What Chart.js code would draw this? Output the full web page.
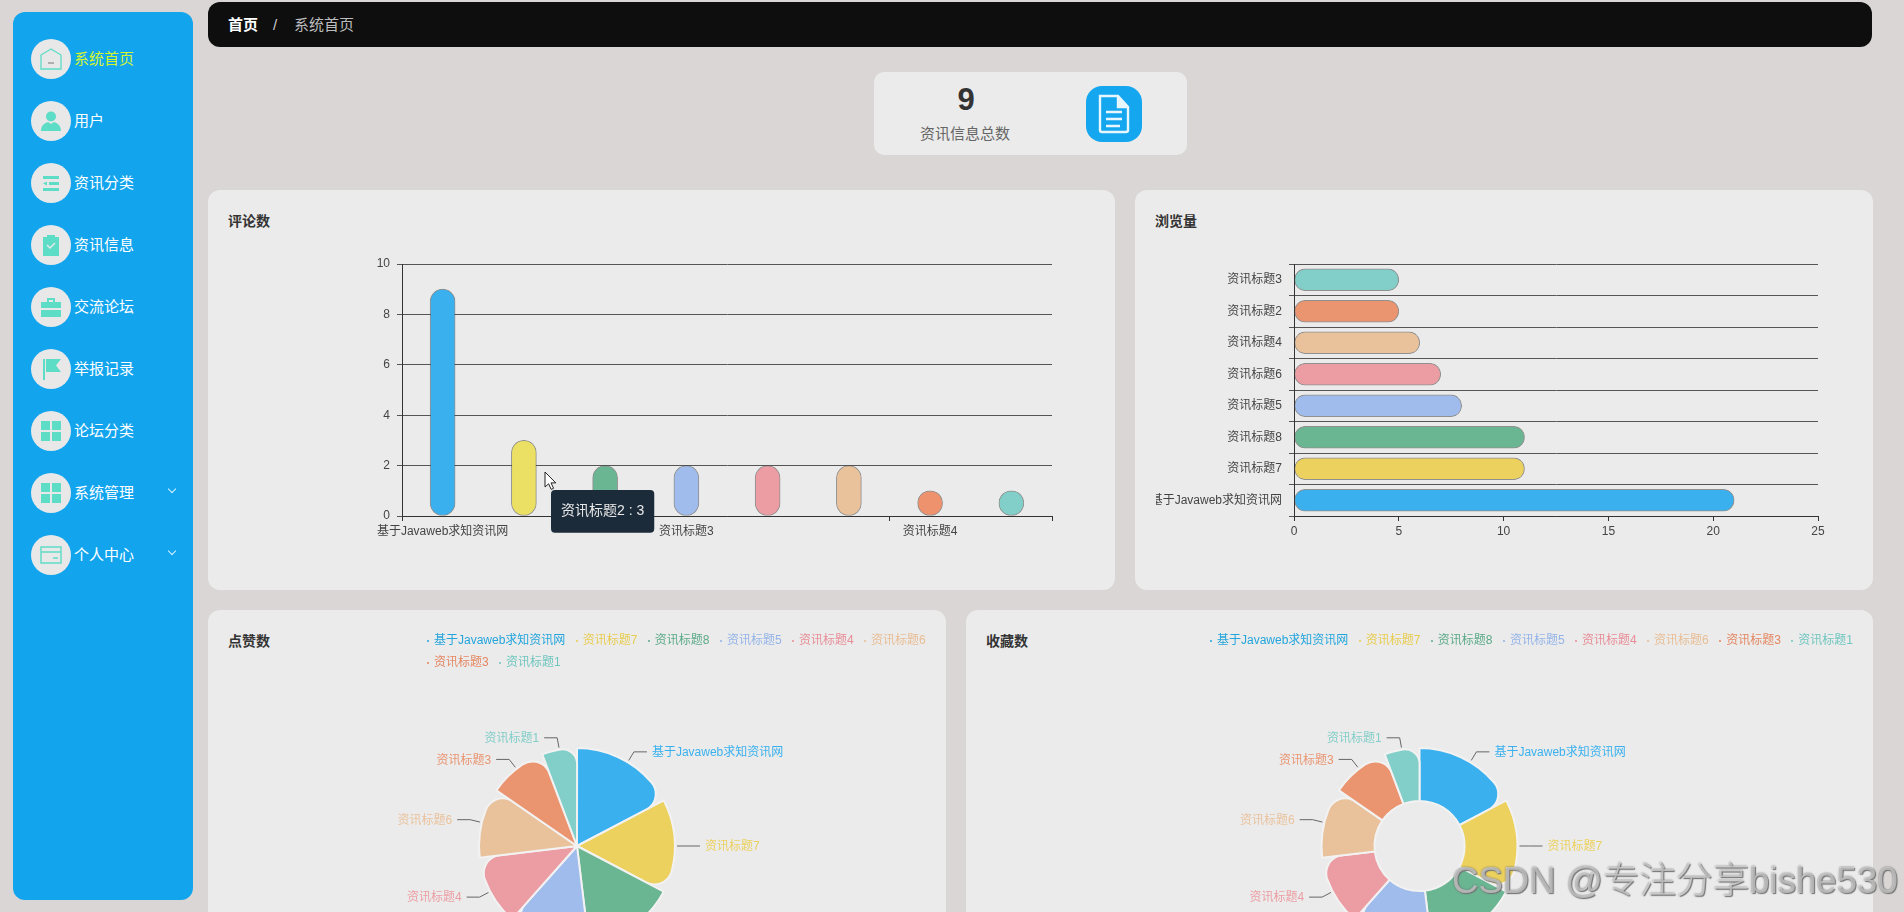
<!DOCTYPE html>
<html lang="zh">
<head>
<meta charset="utf-8">
<title>系统首页</title>
<script src="https://cdn.jsdelivr.net/npm/chart.js@4/dist/chart.umd.min.js"></script>
<style>
* { box-sizing: border-box; }
html, body { margin: 0; height: 100%; overflow: hidden; background: #d9d6d5; font-family: "Liberation Sans", "Noto Sans CJK SC", sans-serif; color: #333; }
#page { position: relative; width: 1904px; height: 912px; overflow: hidden; }
#sidebar { position: absolute; left: 13px; top: 12px; width: 180px; height: 888px; background: #12a5ee; border-radius: 12px; }
.nav { position: absolute; left: 18px; width: 160px; height: 40px; color: #fff; font-size: 15px; line-height: 40px; }
.nav.on { color: #d4f52e; }
.nav .ic { position: absolute; left: 0; top: 0; width: 40px; height: 40px; border-radius: 50%; background: #e8e8e8; }
.nav .ic svg { position: absolute; left: 9px; top: 9px; width: 22px; height: 22px; }
.nav span { position: absolute; left: 43px; top: 0; }
.nav i { position: absolute; left: 138px; top: 13px; width: 6px; height: 6px; border-right: 1px solid #d8f2ff; border-bottom: 1px solid #d8f2ff; transform: rotate(45deg); }
#topbar { position: absolute; left: 208px; top: 2px; width: 1664px; height: 45px; background: #0e0e0f; border-radius: 12px; line-height: 45px; font-size: 15px; color: #bcbcbc; }
#topbar b { position: absolute; left: 20px; color: #fff; }
#topbar u { position: absolute; left: 65px; text-decoration: none; color: #ccc; }
#topbar span { position: absolute; left: 86px; }
.card { position: absolute; background: #ebebeb; border-radius: 12px; }
#stat { left: 874px; top: 72px; width: 313px; height: 83px; border-radius: 10px; }
#stat b { position: absolute; left: 0; width: 184px; top: 6px; text-align: center; font-size: 31px; line-height: 44px; color: #333; }
#stat span { position: absolute; left: 0; width: 182px; top: 50px; text-align: center; font-size: 15px; line-height: 24px; color: #666; }
#stat .doc { position: absolute; left: 212px; top: 14px; width: 56px; height: 56px; border-radius: 16px; background: #14a6ef; }
.title { position: absolute; font-size: 14px; font-weight: 700; line-height: 20px; color: #333; }
canvas { position: absolute; }
.legend { position: absolute; display: flex; flex-wrap: wrap; font-size: 12px; line-height: 22px; }
.legend div { margin-right: 10.4px; white-space: nowrap; }
.legend div::before { content: ""; display: inline-block; width: 2px; height: 2px; border-radius: 50%; background: currentColor; margin-right: 5px; vertical-align: middle; }
#pointer { position: absolute; left: 544px; top: 471px; }
#mark { position: absolute; left: 1452px; top: 858px; font-family: "Liberation Sans", "Noto Sans CJK SC", sans-serif; font-size: 36.6px; font-weight: 300; line-height: 46px; color: rgba(255,255,255,.5); text-shadow: 0 0 2px #666, 1px 1px 1px #777; white-space: nowrap; }
</style>
</head>
<body>
<div id="page">
  <div id="sidebar"></div>
  <div id="topbar"><b>首页</b><u>/</u><span>系统首页</span></div>
  <div class="card" id="stat">
    <b>9</b><span>资讯信息总数</span>
    <div class="doc"><svg viewBox="0 0 56 56" width="56" height="56" fill="none" stroke="#e8f6fd" stroke-width="2.4"><path d="M14 10h18l10 11v23a2 2 0 0 1-2 2H16a2 2 0 0 1-2-2z"/><path d="M32 10v11h10" fill="#e8f6fd"/><path d="M20 26h16M20 33h16M20 40h14"/></svg></div>
  </div>
  <div class="card" style="left:208px;top:190px;width:907px;height:400px"></div>
  <div class="card" style="left:1135px;top:190px;width:738px;height:400px"></div>
  <div class="card" style="left:208px;top:610px;width:738px;height:330px"></div>
  <div class="card" style="left:966px;top:610px;width:907px;height:330px"></div>
  <div class="title" style="left:228px;top:211px">评论数</div>
  <div class="title" style="left:1155px;top:211px">浏览量</div>
  <div class="title" style="left:228px;top:631px">点赞数</div>
  <div class="title" style="left:986px;top:631px">收藏数</div>
  <canvas id="commentChart" width="867" height="340" style="left:228px;top:240px"></canvas>
  <canvas id="viewChart" width="698" height="340" style="left:1156px;top:240px"></canvas>
  <canvas id="likeChart" width="738" height="472" style="left:208px;top:610px"></canvas>
  <canvas id="favChart" width="907" height="472" style="left:966px;top:610px"></canvas>
  <div class="legend" id="likeLegend" style="left:427px;top:629px;width:510px"></div>
  <div class="legend" id="favLegend" style="left:1210px;top:629px;width:660px"></div>
  <svg id="pointer" width="14" height="20" viewBox="0 0 14 20"><path d="M1 1v15l3.6-3.2 2.6 5.6 2.4-1.1-2.6-5.4h4.8z" fill="#fff" stroke="#222" stroke-width="1"/></svg>
  <div id="mark">CSDN @专注分享bishe530</div>
</div>
<script>
// chart data
const commentLabels = ['基于Javaweb求知资讯网', '资讯标题2', '资讯标题8', '资讯标题3', '资讯标题5', '资讯标题6', '资讯标题4', '资讯标题1'];
const commentValues = [9, 3, 2, 2, 2, 2, 1, 1];
const commentTicks = [0, 2, 4, 6, 8, 10];

const viewLabels = ['资讯标题3', '资讯标题2', '资讯标题4', '资讯标题6', '资讯标题5', '资讯标题8', '资讯标题7', '基于Javaweb求知资讯网'];
const viewValues = [5, 5, 6, 7, 8, 11, 11, 21];

const likeLabels = ['基于Javaweb求知资讯网', '资讯标题7', '资讯标题8', '资讯标题5', '资讯标题4', '资讯标题6', '资讯标题3', '资讯标题1'];
const likeValues = [9, 8, 8, 7, 6, 6, 5, 3];

const favLabels = ['基于Javaweb求知资讯网', '资讯标题7', '资讯标题8', '资讯标题5', '资讯标题4', '资讯标题6', '资讯标题3', '资讯标题1'];
const favValues = [9, 8, 8, 7, 6, 6, 5, 3];

const navLabels = ['系统首页', '用户', '资讯分类', '资讯信息', '交流论坛', '举报记录', '论坛分类', '系统管理', '个人中心'];

// colours
const commentColors = ['#3ab1ee', '#ebe063', '#6ab592', '#a0bcec', '#ec9da3', '#e9c29c', '#ee926e', '#82cec8'];
const viewColors = ['#82cec8', '#ea9470', '#e9c29c', '#ec9da3', '#a0bcec', '#6ab592', '#ecd15e', '#3ab1ee'];
const pieColors = ['#3ab1ee', '#ecd15e', '#6ab592', '#a0bcec', '#ec9da3', '#e9c29c', '#ea9470', '#82cec8'];
const legendColors = ['#23a5dc', '#e8cc4e', '#5aaa88', '#93b3e8', '#e88c96', '#e8bd94', '#e58660', '#6fc6bf'];

const iconColor = '#5ddcc6';
const navIcons = [
    '<path d="M11 1 1 7v14h20V7z" fill="none" stroke="' + iconColor + '" stroke-width="1.3"/><path d="M8 15h6" stroke="#888" stroke-width="1.2"/>',
    '<circle cx="11" cy="6.5" r="5" fill="' + iconColor + '"/><path d="M1 21c0-6 4-8 7-9l3 2 3-2c3 1 7 3 7 9z" fill="' + iconColor + '"/>',
    '<path d="M3 4h16v3H3zM9 10h10v3H9zM3 16h16v3H3zM3 11.5 7 9.5v4z" fill="' + iconColor + '"/>',
    '<path d="M3 3h4V1h8v2h4v19H3z" fill="' + iconColor + '"/><path d="M7 11l3 3 5-5" fill="none" stroke="#e8e8e8" stroke-width="1.5"/>',
    '<path d="M7 6V2h8v4h6v6H1V6zM9 4v2h4V4zM1 14h20v7H1z" fill="' + iconColor + '"/>',
    '<path d="M3 1h2v21H3zM6 1h15l-5 6.5 5 6.5H6z" fill="' + iconColor + '"/>',
    '<path d="M1 1h9v9H1zM12 1h9v9h-9zM1 12h9v9H1zM12 12h9v9h-9z" fill="' + iconColor + '"/>',
    '<path d="M1 1h9v9H1zM12 1h9v9h-9zM1 12h9v9H1zM12 12h9v9h-9z" fill="' + iconColor + '"/>',
    '<path d="M1 3h20v16H1zM1 8h20M13 14h5" fill="none" stroke="' + iconColor + '" stroke-width="1.4"/>'
];

Chart.defaults.font.family = '"Liberation Sans", "Noto Sans CJK SC", sans-serif';
Chart.defaults.font.size = 12;
Chart.defaults.color = '#444';
Chart.defaults.animation = false;
Chart.defaults.events = [];
Chart.defaults.responsive = false;

// sidebar
const sidebar = document.getElementById('sidebar');
navLabels.forEach((label, i) => {
    const item = document.createElement('div');
    item.className = 'nav' + (i === 0 ? ' on' : '');
    item.style.top = (27 + i * 62) + 'px';
    item.innerHTML = '<div class="ic"><svg viewBox="0 0 22 22">' + navIcons[i] + '</svg></div><span>' + label + '</span>' + (i >= 7 ? '<i></i>' : '');
    sidebar.appendChild(item);
});

// tooltip is pinned where the mouse was when the page was captured
Chart.Tooltip.positioners.pinned = function(items, pos) {
    return { x: pos.x, y: pos.y };
};

const gridDark = '#555';
const axisDark = '#333';

const commentChart = new Chart(document.getElementById('commentChart'), {
    type: 'bar',
    data: {
        labels: commentLabels,
        datasets: [{
            data: commentValues,
            backgroundColor: commentColors,
            borderColor: 'rgba(70,70,70,0.55)',
            borderWidth: 1,
            borderRadius: 20,
            borderSkipped: false,
            barThickness: 25
        }]
    },
    options: {
        layout: { padding: { top: 24, right: 43 } },
        plugins: {
            legend: { display: false },
            tooltip: {
                position: 'pinned',
                animation: false,
                xAlign: 'left',
                yAlign: 'top',
                caretSize: 0,
                caretPadding: 0,
                cornerRadius: 4,
                backgroundColor: '#1c2b3a',
                bodyColor: '#e8e8e8',
                bodyFont: { size: 14 },
                padding: { x: 10, y: 13 },
                displayColors: false,
                callbacks: {
                    title: () => '',
                    label: (c) => c.label + ' : ' + c.parsed.y
                }
            }
        },
        scales: {
            x: {
                afterFit: (s) => { s.height = 64; },
                grid: {
                    offset: true,
                    drawOnChartArea: false,
                    tickLength: 5,
                    color: (c) => (!c.tick || c.index % 3 === 0) ? axisDark : 'transparent'
                },
                border: { color: axisDark },
                ticks: {
                    autoSkip: false,
                    maxRotation: 0,
                    padding: 3,
                    callback: function(value, index) {
                        return index % 3 === 0 ? this.getLabelForValue(value) : '';
                    }
                }
            },
            y: {
                min: 0,
                max: commentTicks[commentTicks.length - 1],
                afterFit: (s) => { s.width = 174; },
                afterBuildTicks: (s) => { s.ticks = commentTicks.map((v) => ({ value: v })); },
                grid: { color: gridDark, tickLength: 5 },
                border: { color: axisDark },
                ticks: { padding: 7 }
            }
        }
    }
});
commentChart.tooltip.setActiveElements([{ datasetIndex: 0, index: 1 }], { x: 327, y: 250 });
commentChart.draw();

new Chart(document.getElementById('viewChart'), {
    type: 'bar',
    data: {
        labels: viewLabels,
        datasets: [{
            data: viewValues,
            backgroundColor: viewColors,
            borderColor: 'rgba(70,70,70,0.55)',
            borderWidth: 1,
            borderRadius: 20,
            borderSkipped: false,
            barThickness: 22
        }]
    },
    options: {
        indexAxis: 'y',
        layout: { padding: { top: 24, right: 36 } },
        plugins: { legend: { display: false }, tooltip: { enabled: false } },
        scales: {
            x: {
                min: 0,
                max: 25,
                afterFit: (s) => { s.height = 64; },
                grid: { drawOnChartArea: false, color: axisDark, tickLength: 5 },
                border: { color: axisDark },
                ticks: { stepSize: 5, padding: 3, maxRotation: 0 }
            },
            y: {
                afterFit: (s) => { s.width = 138; },
                grid: { offset: true, color: gridDark, tickLength: 5 },
                border: { color: axisDark },
                ticks: { autoSkip: false, padding: 7 }
            }
        }
    }
});

// outside labels with bent lead lines, placed from each arc's own angle
const leadLabels = {
    id: 'leadLabels',
    afterDatasetsDraw(chart) {
        const ctx = chart.ctx;
        const meta = chart.getDatasetMeta(0);
        ctx.save();
        ctx.font = '12px ' + Chart.defaults.font.family;
        ctx.textBaseline = 'middle';
        meta.data.forEach((arc, i) => {
            const a = (arc.startAngle + arc.endAngle) / 2;
            const r = arc.outerRadius;
            const x0 = arc.x + Math.cos(a) * (r + 2);
            const y0 = arc.y + Math.sin(a) * (r + 2);
            const x1 = arc.x + Math.cos(a) * (r + 12);
            const y1 = arc.y + Math.sin(a) * (r + 12);
            const side = Math.cos(a) >= -1e-6 ? 1 : -1;
            const x2 = x1 + side * 13;
            ctx.beginPath();
            ctx.moveTo(x0, y0);
            ctx.lineTo(x1, y1);
            ctx.lineTo(x2, y1);
            ctx.strokeStyle = '#666';
            ctx.lineWidth = 1;
            ctx.stroke();
            ctx.fillStyle = pieColors[i];
            ctx.textAlign = side > 0 ? 'left' : 'right';
            ctx.fillText(chart.data.labels[i], x2 + side * 5, y1 + 1);
        });
        ctx.restore();
    }
};

function drawPie(canvasId, labels, values, cutout) {
    return new Chart(document.getElementById(canvasId), {
        type: 'doughnut',
        data: {
            labels: labels,
            datasets: [{
                data: values,
                backgroundColor: pieColors,
                borderColor: '#f2f2f2',
                borderWidth: 2,
                borderAlign: 'center',
                borderRadius: { outerStart: 0, outerEnd: 18, innerStart: 0, innerEnd: 0 }
            }]
        },
        options: {
            radius: 98,
            cutout: cutout,
            plugins: { legend: { display: false }, tooltip: { enabled: false } }
        },
        plugins: [leadLabels]
    });
}

drawPie('likeChart', likeLabels, likeValues, 0);
drawPie('favChart', favLabels, favValues, '46%');

function fillLegend(id, labels) {
    const box = document.getElementById(id);
    labels.forEach((label, i) => {
        const item = document.createElement('div');
        item.textContent = label;
        item.style.color = legendColors[i];
        box.appendChild(item);
    });
}
fillLegend('likeLegend', likeLabels);
fillLegend('favLegend', favLabels);
</script>
</body>
</html>
